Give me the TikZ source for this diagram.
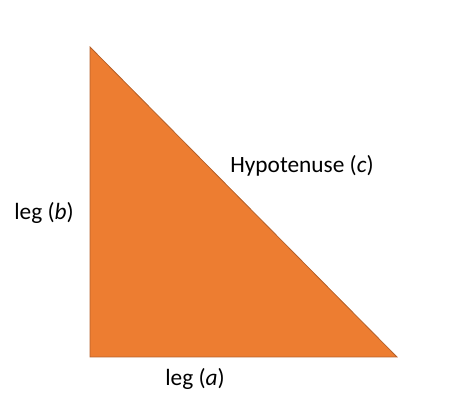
\documentclass[tikz,border=0pt]{standalone}
\usepackage{fontspec}
\setmainfont{Carlito}
\definecolor{legfill}{HTML}{ED7D31}
\definecolor{legedge}{HTML}{B5602A}
\tikzset{
  side label/.style={font=\fontsize{17.5}{20}\selectfont, inner sep=0pt}
}
\begin{document}
\begin{tikzpicture}[x=0.75pt,y=-0.75pt]
        \useasboundingbox (0,0) rectangle (450,409);
        % triangle corners
        \coordinate (top) at (90,47);
        \coordinate (corner) at (90,357);
        \coordinate (right) at (397,357);
        \draw[draw=legedge, fill=legfill, line width=0.6pt] (top) -- (corner) -- (right) -- cycle;
        % side labels
        \node[side label] (hyp) at (302,166) {Hypotenuse (\textit{c})};
        \node[side label] (legb) at (44,213) {leg (\textit{b})};
        \node[side label] (lega) at (195,379) {leg (\textit{a})};
      \end{tikzpicture}
\end{document}
